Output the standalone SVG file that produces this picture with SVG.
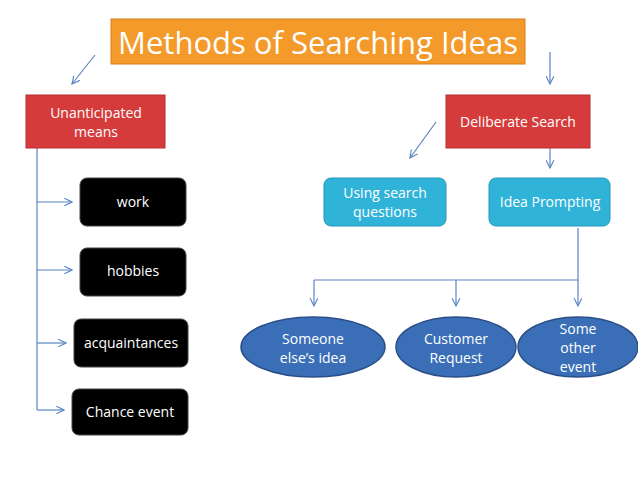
<svg xmlns="http://www.w3.org/2000/svg" width="638" height="478" viewBox="0 0 638 478">
<style>
text{font-family:"Open Sans","Liberation Sans",sans-serif;fill:#fff;text-anchor:middle}
.c{stroke:#5b86c4;stroke-width:1.2;fill:none}
.red{fill:#d63b3b;stroke:#b43030}
.blk{fill:#000;stroke:#444}
.cy{fill:#2fb3d9;stroke:#2597b8}
.el{fill:#3a6fb8;stroke:#2b4f88;stroke-width:1.5}
</style>
<defs><marker id="a" viewBox="0 0 10 10" refX="9" refY="5" markerWidth="8" markerHeight="8" orient="auto"><path d="M1 1L9 5L1 9" fill="none" stroke="#5b86c4" stroke-width="1.2"/></marker></defs>
<rect width="638" height="478" fill="#fff"/>
<g id="connectors">
<path class="c" d="M95 55L72 84" marker-end="url(#a)"/>
<path class="c" d="M550 52V84" marker-end="url(#a)"/>
<path class="c" d="M436 122L410 158" marker-end="url(#a)"/>
<path class="c" d="M550 148V168" marker-end="url(#a)"/>
<path class="c" d="M37 148V410"/>
<path class="c" d="M37 202H72" marker-end="url(#a)"/>
<path class="c" d="M37 270H72" marker-end="url(#a)"/>
<path class="c" d="M37 343H66" marker-end="url(#a)"/>
<path class="c" d="M37 410H64" marker-end="url(#a)"/>
<path class="c" d="M578 228V280H314"/>
<path class="c" d="M314 280V306" marker-end="url(#a)"/>
<path class="c" d="M456 280V306" marker-end="url(#a)"/>
<path class="c" d="M578 280V306" marker-end="url(#a)"/>
</g>
<g id="title"><rect x="111" y="19" width="414" height="45" fill="#f39a2b" stroke="#d77f1a"/><text x="318" y="54" font-size="31">Methods of Searching Ideas</text></g>
<g id="unanticipated"><rect class="red" x="26" y="95" width="139" height="53"/><text x="96" y="118" font-size="14">Unanticipated</text><text x="96" y="137" font-size="14">means</text></g>
<g id="deliberate"><rect class="red" x="446" y="95" width="144" height="53"/><text x="518" y="127" font-size="14">Deliberate Search</text></g>
<g id="using"><rect class="cy" x="324" y="178" width="122" height="48" rx="7"/><text x="385" y="198" font-size="14">Using search</text><text x="385" y="217" font-size="14">questions</text></g>
<g id="idea"><rect class="cy" x="489" y="178" width="121" height="48" rx="7"/><text x="550" y="207" font-size="14">Idea Prompting</text></g>
<g id="work"><rect class="blk" x="80" y="178" width="106" height="48" rx="7"/><text x="133" y="207" font-size="14">work</text></g>
<g id="hobbies"><rect class="blk" x="80" y="248" width="106" height="48" rx="7"/><text x="133" y="276" font-size="14">hobbies</text></g>
<g id="acq"><rect class="blk" x="74" y="319" width="114" height="48" rx="7"/><text x="131" y="348" font-size="14">acquaintances</text></g>
<g id="chance"><rect class="blk" x="72" y="389" width="116" height="46" rx="7"/><text x="130" y="417" font-size="14">Chance event</text></g>
<g id="someone"><ellipse class="el" cx="313" cy="347" rx="72" ry="30"/><text x="313" y="344" font-size="14">Someone</text><text x="313" y="363" font-size="14">else’s idea</text></g>
<g id="customer"><ellipse class="el" cx="456" cy="347" rx="60" ry="30"/><text x="456" y="344" font-size="14">Customer</text><text x="456" y="363" font-size="14">Request</text></g>
<g id="other"><ellipse class="el" cx="578" cy="347" rx="60" ry="30"/><text x="578" y="334" font-size="14">Some</text><text x="578" y="353" font-size="14">other</text><text x="578" y="372" font-size="14">event</text></g>
</svg>
